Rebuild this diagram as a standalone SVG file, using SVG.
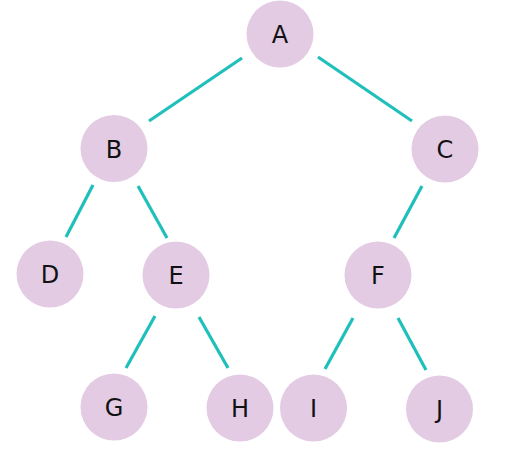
<svg xmlns="http://www.w3.org/2000/svg" width="518" height="455" viewBox="0 0 518 455">
<style>
.n{fill:#e3cbe3}
.t{font-family:"DejaVu Sans",Verdana,sans-serif;font-size:24px;fill:#111;text-anchor:middle;dominant-baseline:central}
.e{stroke:#1fbfbb;stroke-width:3.2;stroke-linecap:butt;fill:none}
</style>
<rect width="518" height="455" fill="#fff"/>
<g id="connectors">
<line class="e" x1="242" y1="58" x2="149" y2="121"/>
<line class="e" x1="318" y1="57" x2="412" y2="121"/>
<line class="e" x1="93" y1="185" x2="66" y2="237"/>
<line class="e" x1="138" y1="186" x2="167" y2="238"/>
<line class="e" x1="422" y1="186" x2="394" y2="238"/>
<line class="e" x1="155" y1="316" x2="126" y2="368"/>
<line class="e" x1="199" y1="317" x2="228" y2="368"/>
<line class="e" x1="353" y1="318" x2="325" y2="369"/>
<line class="e" x1="398" y1="318" x2="426" y2="370"/>
</g>
<g id="A"><circle class="n" cx="280" cy="34" r="33.5"/><text class="t" x="280" y="35">A</text></g>
<g id="B"><circle class="n" cx="114" cy="148.5" r="33.5"/><text class="t" x="114" y="149.5">B</text></g>
<g id="C"><circle class="n" cx="445" cy="149" r="33.5"/><text class="t" x="445" y="150">C</text></g>
<g id="D"><circle class="n" cx="50" cy="274" r="33.5"/><text class="t" x="50" y="275">D</text></g>
<g id="E"><circle class="n" cx="176" cy="275" r="33.5"/><text class="t" x="176" y="276">E</text></g>
<g id="F"><circle class="n" cx="378" cy="275" r="33.5"/><text class="t" x="378" y="276">F</text></g>
<g id="G"><circle class="n" cx="114" cy="407" r="33.5"/><text class="t" x="114" y="408">G</text></g>
<g id="H"><circle class="n" cx="240" cy="408" r="33.5"/><text class="t" x="240" y="409">H</text></g>
<g id="I"><circle class="n" cx="313.5" cy="408" r="33.5"/><text class="t" x="313.5" y="409">I</text></g>
<g id="J"><circle class="n" cx="439.5" cy="409" r="33.5"/><text class="t" x="439.5" y="410">J</text></g>
</svg>
